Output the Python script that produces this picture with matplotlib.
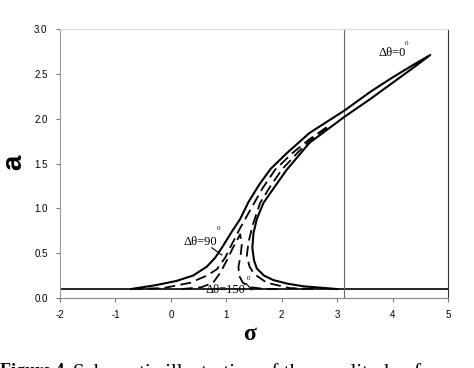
import matplotlib
matplotlib.use("Agg")
import matplotlib.pyplot as plt

# amplitude curves (sigma, a)
sig_0 = [-0.72, -0.3, 0.1, 0.4, 0.65, 0.8, 0.92, 1.1, 1.25, 1.4, 1.6, 1.8, 2.1, 2.5, 3.13, 3.6, 4.0, 4.4, 4.68,
         4.4, 4.0, 3.6, 3.13, 2.5, 2.09, 1.85, 1.67, 1.55, 1.49, 1.47, 1.5, 1.55, 1.68, 1.85, 2.1, 2.4, 2.8, 3.0]
a_0 = [0.10, 0.14, 0.19, 0.25, 0.35, 0.45, 0.56, 0.74, 0.88, 1.07, 1.27, 1.44, 1.62, 1.84, 2.09, 2.30, 2.46, 2.61, 2.71,
       2.58, 2.40, 2.22, 2.02, 1.73, 1.43, 1.22, 1.06, 0.88, 0.72, 0.56, 0.42, 0.33, 0.25, 0.20, 0.16, 0.13, 0.11, 0.10]

sig_90 = [-0.7, -0.14, 0.35, 0.65, 0.83, 0.98, 1.1, 1.25, 1.45, 1.65, 1.88, 2.2, 2.5, 2.85,
          2.6, 2.3, 2.0, 1.8, 1.61, 1.48, 1.40, 1.37, 1.42, 1.5, 1.73, 2.15, 2.6]
a_90 = [0.10, 0.11, 0.17, 0.25, 0.32, 0.45, 0.60, 0.78, 1.0, 1.22, 1.43, 1.62, 1.77, 1.92,
        1.80, 1.63, 1.43, 1.25, 1.06, 0.82, 0.62, 0.47, 0.35, 0.27, 0.17, 0.11, 0.10]

sig_150 = [0.2, 0.55, 0.76, 0.89, 1.01, 1.12, 1.2, 1.25,
           1.28, 1.26, 1.22, 1.23, 1.3, 1.43, 1.7, 1.95]
a_150 = [0.10, 0.12, 0.17, 0.28, 0.42, 0.56, 0.65, 0.71,
         0.60, 0.48, 0.35, 0.25, 0.17, 0.12, 0.10, 0.10]

base_a = 0.1
sigma_mark = 3.13
xticks = [-2, -1, 0, 1, 2, 3, 4, 5]
yticks = [0.0, 0.5, 1.0, 1.5, 2.0, 2.5, 3.0]

fig = plt.figure(figsize=(4.74, 3.68), dpi=100)
ax = fig.add_axes([60/474, 1-298/368, 388/474, 269/368])

ax.axhline(base_a, color='black', lw=1.2)
ax.axvline(sigma_mark, color='#666666', lw=0.8)
ax.plot(sig_0, a_0, color='black', lw=1.5)
ax.plot(sig_90, a_90, color='black', lw=1.3, ls=(0, (6, 3)))
ax.plot(sig_150, a_150, color='black', lw=1.3, ls=(0, (6, 3)))

ax.set_xlim(-2, 5)
ax.set_ylim(0, 3)
ax.set_xticks(xticks)
ax.set_yticks(yticks)
ax.set_xticklabels([str(t) for t in xticks])
ax.set_yticklabels(['%.1f' % t for t in yticks])
ax.tick_params(direction='out', length=3, width=0.8, colors='#777777', labelsize=7,
               labelcolor='black', pad=6)
for lab in ax.get_xticklabels() + ax.get_yticklabels():
    lab.set_family('Liberation Sans')
ax.spines['left'].set_color('#999999')
ax.spines['bottom'].set_color('#888888')
ax.spines['top'].set_color('#dddddd')
ax.spines['right'].set_color('#333333')

# curve labels
tfont = dict(family='Liberation Serif', fontsize=9, color='black', va='center')
sfont = dict(family='Liberation Serif', fontsize=5, color='black', va='center')
ax.text(0.22, 0.62, 'Δθ=90', **tfont)
ax.text(0.83, 0.78, '0', **sfont)
ax.plot([0.74, 0.92], [0.56, 0.48], color='black', lw=0.8)
ax.text(0.62, 0.09, 'Δθ=150', **tfont)
ax.text(1.37, 0.22, '0', **sfont)
ax.plot([1.36, 1.46], [0.16, 0.09], color='black', lw=0.8)
ax.text(3.74, 2.73, 'Δθ=0', **tfont)
ax.text(4.22, 2.84, '0', **sfont)

fig.text(14/474, 1-162/368, 'a', rotation=90, ha='center', va='center',
         fontsize=20, fontweight='bold', family='Liberation Sans')
fig.text(250/474, 1-334/368, 'σ', ha='center', va='center',
         fontsize=17, fontweight='bold', family='Liberation Serif')

# caption, cut off at the bottom edge as in the original page crop
fig.text(0.0, 1-363/368, 'Figure 4.', fontsize=13, fontweight='bold',
         va='top', family='Liberation Serif')
fig.text(73/474, 1-363/368, 'Schematic illustration of the amplitude of', fontsize=15,
         va='top', family='Liberation Serif')

fig.savefig('out.png', dpi=100)
